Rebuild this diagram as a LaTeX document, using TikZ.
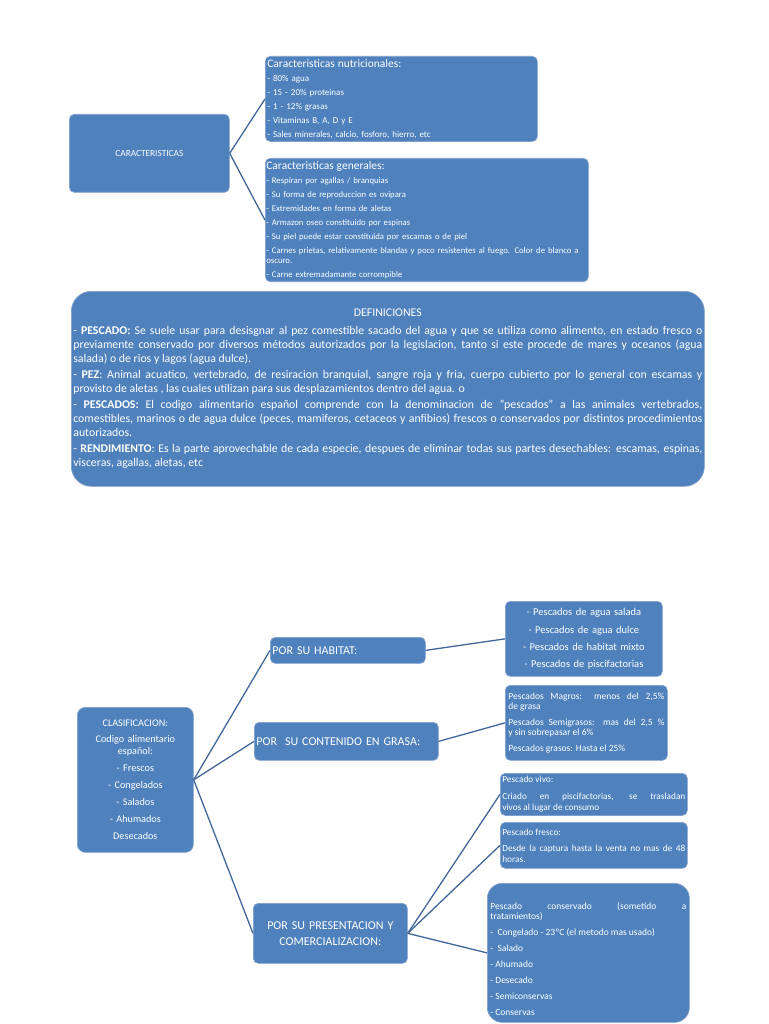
\documentclass[tikz,border=0pt]{standalone}
\usepackage{fontspec}
\setmainfont{Carlito}
\definecolor{boxblue}{RGB}{79,129,189}
\definecolor{boxrim}{RGB}{130,160,205}
\definecolor{linkblue}{RGB}{66,103,154}
\tikzset{
    blk/.style={draw=boxrim, fill=boxblue, line width=0.7pt, rounded corners=5pt,
                text=white, anchor=north west, inner sep=3pt},
    link/.style={draw=linkblue, line width=1.3pt},
    head/.style={font=\fontsize{12}{16}\selectfont},
    small/.style={font=\fontsize{9}{10}\selectfont},
    mid/.style={font=\fontsize{9.3}{11}\selectfont},
}

\begin{document}
\begin{tikzpicture}[x=1pt, y=-1pt]

    \fill[white] (0,0) rectangle (768,1024);
    \useasboundingbox (0,0) rectangle (768,1024);

    % caracteristicas
    \node[blk, minimum width=160pt, minimum height=78pt,
          font=\fontsize{9.3}{11}\selectfont] (carac) at (69,114) {CARACTERISTICAS};
    \node[blk, small, minimum width=272pt, minimum height=85pt, text width=268pt,
          inner xsep=2pt, align=left] (nutri) at (265,56)
        {{\fontsize{11.5}{10}\selectfont Caracteristicas nutricionales:}\\[4pt]
         - 80\% agua\\[4pt]
         - 15 - 20\% proteinas\\[4pt]
         - 1 -  12\% grasas\\[4pt]
         - Vitaminas B, A, D  y E\\[4pt]
         - Sales minerales, calcio, fosforo, hierro, etc};
    \node[blk, minimum width=323pt, minimum height=120pt, text width=321pt,
          inner xsep=1pt, align=left, font=\fontsize{8.7}{10}\selectfont] (gen) at (265,158)
        {{\fontsize{11.5}{10}\selectfont Caracteristicas generales:}\\[4pt]
         - Respiran por agallas / branquias\\[4pt]
         - Su forma de reproduccion es ovipara\\[4pt]
         - Extremidades en forma de aletas\\[4pt]
         - Armazon oseo constituido por espinas\\[4pt]
         - Su piel puede estar constituida por escamas o de piel\\[4pt]
         \mbox{- Carnes prietas, relativamente blandas y poco resistentes al fuego. Color de blanco a}\\
         oscuro.\\[4pt]
         - Carne extremadamante corrompible};
    \draw[link] (carac.east) -- (nutri.west);
    \draw[link] (carac.east) -- (gen.west);

    % definiciones
    \node[blk, rounded corners=20pt, minimum width=633pt, minimum height=195pt,
          text width=629pt, inner xsep=2pt, align=justify,
          font=\fontsize{11.8}{14}\selectfont] (defs) at (71,291)
        {\hfill DEFINICIONES\hfill\null\\[4pt]
         - \textbf{PESCADO:} Se suele usar para desisgnar al pez comestible sacado del agua y que se utiliza como alimento, en estado fresco o\linebreak
         previamente conservado por diversos métodos autorizados por la legislacion, tanto si este procede de mares y oceanos (agua\linebreak
         salada) o de rios y lagos (agua dulce).\\[2pt]
         - \textbf{PEZ}: Animal acuatico, vertebrado, de resiracion branquial, sangre roja y fria, cuerpo cubierto por lo general con escamas y\linebreak
         provisto de aletas , las cuales utilizan para sus desplazamientos dentro del agua. o\\[2pt]
         - \textbf{PESCADOS:} El codigo alimentario español comprende con la denominacion de "pescados" a las animales vertebrados,\linebreak
         comestibles, marinos o de agua dulce (peces, mamiferos, cetaceos y anfibios) frescos o conservados por distintos procedimientos\linebreak
         autorizados.\\[2pt]
         - \textbf{RENDIMIENTO}: Es la parte aprovechable de  cada especie, despues de eliminar todas sus partes desechables: escamas, espinas,\linebreak
         visceras, agallas, aletas, etc};

    % clasificacion
    \node[blk, rounded corners=8pt, minimum width=116pt, minimum height=145pt,
          text width=112pt, inner xsep=2pt, align=center,
          font=\fontsize{10.2}{12}\selectfont] (clasif) at (77,707)
        {CLASIFICACION:\\[4pt]
         Codigo alimentario\\ español:\\[5pt]
         - Frescos\\[5pt]
         - Congelados\\[5pt]
         - Salados\\[5pt]
         - Ahumados\\[5pt]
         Desecados};

    \node[blk, head, minimum width=155pt, minimum height=26pt, text width=151pt,
          inner xsep=2pt, align=left] (habitat) at (270,637) {POR SU HABITAT:};
    \node[blk, head, minimum width=184pt, minimum height=38pt, text width=180pt,
          inner xsep=2pt, align=left] (grasa) at (254,722) {POR~~SU CONTENIDO EN GRASA:};
    \node[blk, head, minimum width=154pt, minimum height=60pt, text width=150pt,
          inner xsep=2pt, align=center] (present) at (253,903) {POR SU PRESENTACION Y\\ COMERCIALIZACION:};

    \node[blk, minimum width=157pt, minimum height=75pt, text width=153pt,
          inner xsep=2pt, align=center, font=\fontsize{10.5}{17.3}\selectfont] (hablist) at (505,601)
        {- Pescados de agua salada\\
         - Pescados de agua dulce\\
         - Pescados de habitat mixto\\
         - Pescados de piscifactorias};
    \node[blk, minimum width=162pt, minimum height=75pt, text width=156pt,
          align=justify, font=\fontsize{9.5}{10.5}\selectfont] (grasalist) at (505,685)
        {Pescados Magros: menos del 2,5\%\linebreak de grasa\\[5pt]
         Pescados Semigrasos: mas del 2,5 \%\linebreak y sin sobrepasar el 6\%\\[5pt]
         Pescados grasos: Hasta el 25\%};

    \node[blk, mid, minimum width=187pt, minimum height=42pt, text width=183pt,
          inner xsep=2pt, align=justify] (vivo) at (500,773)
        {Pescado vivo:\\[6pt]
         Criado en piscifactorias, se trasladan\linebreak vivos al lugar de consumo};
    \node[blk, mid, minimum width=187pt, minimum height=46pt, text width=183pt,
          inner xsep=2pt, align=justify] (fresco) at (500,822)
        {Pescado fresco:\\[5pt]
         Desde la captura hasta la venta no mas de 48\linebreak horas.};
    \node[blk, rounded corners=15pt, minimum width=202pt, minimum height=139pt,
          text width=196pt, align=justify, font=\fontsize{9.5}{10}\selectfont] (conserv) at (487,883)
        {\rule{0pt}{19pt}Pescado conservado (sometido a\linebreak tratamientos)\\[6pt]
         -~ Congelado - 23ºC (el metodo mas usado)\\[6pt]
         -~ Salado\\[6pt]
         - Ahumado\\[6pt]
         - Desecado\\[6pt]
         - Semiconservas\\[6pt]
         - Conservas};

    \draw[link] (clasif.east) -- (habitat.west);
    \draw[link] (clasif.east) -- (grasa.west);
    \draw[link] (clasif.east) -- (present.west);
    \draw[link] (habitat.east) -- (hablist.west);
    \draw[link] (grasa.east) -- (grasalist.west);
    \draw[link] (present.east) -- (vivo.west);
    \draw[link] (present.east) -- (fresco.west);
    \draw[link] (present.east) -- (conserv.west);

\end{tikzpicture}
\end{document}
